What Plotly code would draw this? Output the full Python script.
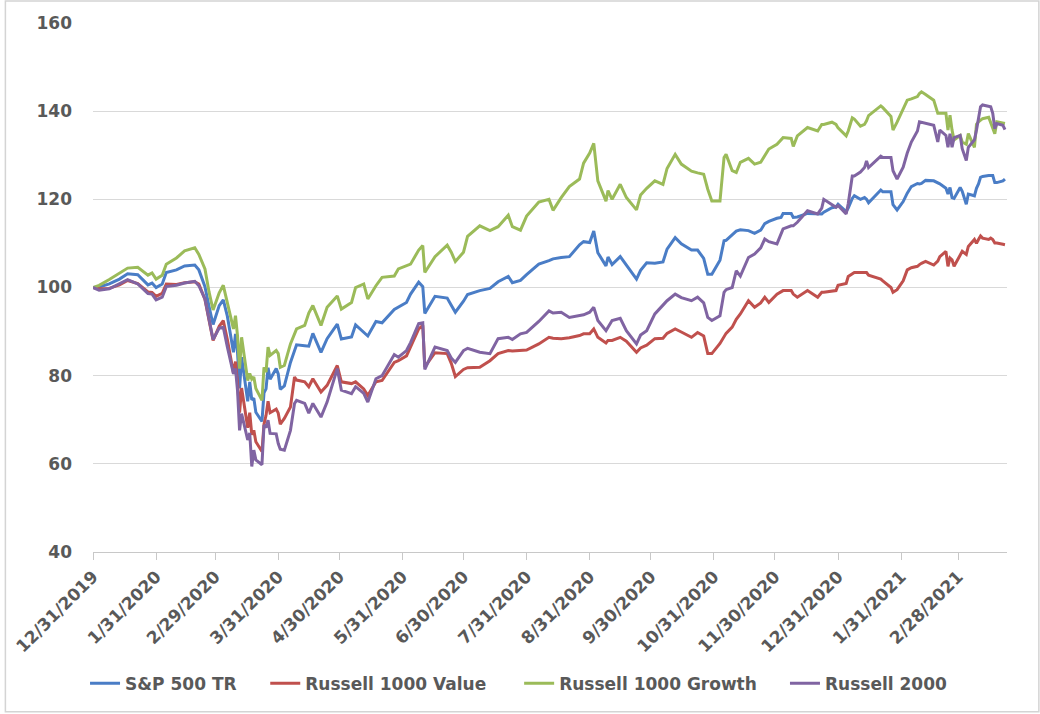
import plotly.graph_objects as go

# trading dates (month by month)
dates = (
    ["2019-12-31"]
    + ["2020-01-03", "2020-01-08", "2020-01-13", "2020-01-17", "2020-01-22", "2020-01-27", "2020-01-29", "2020-01-31"]
    + ["2020-02-03", "2020-02-05", "2020-02-10", "2020-02-14", "2020-02-19", "2020-02-21", "2020-02-24", "2020-02-26", "2020-02-28"]
    + ["2020-03-02", "2020-03-04", "2020-03-06", "2020-03-09", "2020-03-10", "2020-03-11", "2020-03-12", "2020-03-13",
       "2020-03-16", "2020-03-17", "2020-03-18", "2020-03-19", "2020-03-20", "2020-03-23", "2020-03-24", "2020-03-25",
       "2020-03-26", "2020-03-27", "2020-03-30", "2020-03-31"]
    + ["2020-04-01", "2020-04-03", "2020-04-06", "2020-04-08", "2020-04-09", "2020-04-13", "2020-04-15", "2020-04-17",
       "2020-04-21", "2020-04-24", "2020-04-29"]
    + ["2020-05-01", "2020-05-06", "2020-05-08", "2020-05-12", "2020-05-14", "2020-05-18", "2020-05-21", "2020-05-27", "2020-05-29"]
    + ["2020-06-02", "2020-06-04", "2020-06-08", "2020-06-10", "2020-06-11", "2020-06-16", "2020-06-22", "2020-06-24",
       "2020-06-26", "2020-06-30"]
    + ["2020-07-02", "2020-07-08", "2020-07-13", "2020-07-17", "2020-07-22", "2020-07-24", "2020-07-28", "2020-07-31"]
    + ["2020-08-06", "2020-08-11", "2020-08-13", "2020-08-17", "2020-08-21", "2020-08-26", "2020-08-28", "2020-08-31"]
    + ["2020-09-02", "2020-09-04", "2020-09-08", "2020-09-09", "2020-09-11", "2020-09-15", "2020-09-18", "2020-09-23",
       "2020-09-25", "2020-09-28"]
    + ["2020-10-02", "2020-10-06", "2020-10-08", "2020-10-12", "2020-10-15", "2020-10-20", "2020-10-23", "2020-10-26",
       "2020-10-28", "2020-10-30"]
    + ["2020-11-03", "2020-11-05", "2020-11-06", "2020-11-09", "2020-11-11", "2020-11-13", "2020-11-17", "2020-11-20",
       "2020-11-23", "2020-11-25", "2020-11-27"]
    + ["2020-12-01", "2020-12-03", "2020-12-04", "2020-12-08", "2020-12-09", "2020-12-11", "2020-12-16", "2020-12-21",
       "2020-12-23", "2020-12-24", "2020-12-28", "2020-12-30", "2020-12-31"]
    + ["2021-01-04", "2021-01-05", "2021-01-07", "2021-01-08", "2021-01-11", "2021-01-13", "2021-01-14", "2021-01-15",
       "2021-01-21", "2021-01-22", "2021-01-26", "2021-01-27", "2021-01-29"]
    + ["2021-02-01", "2021-02-03", "2021-02-05", "2021-02-08", "2021-02-09", "2021-02-10", "2021-02-12", "2021-02-16",
       "2021-02-18", "2021-02-19", "2021-02-22", "2021-02-23", "2021-02-24", "2021-02-25", "2021-02-26"]
    + ["2021-03-01", "2021-03-02", "2021-03-04", "2021-03-05", "2021-03-08", "2021-03-09", "2021-03-10", "2021-03-11",
       "2021-03-12", "2021-03-15", "2021-03-16", "2021-03-17", "2021-03-18", "2021-03-19", "2021-03-22", "2021-03-23"]
)

sp500_tr = (
    [100.0]
    + [100.1, 100.8, 101.9, 103.1, 102.9, 100.6, 101.0, 100.0]
    + [100.8, 103.4, 104.0, 104.9, 105.1, 104.0, 100.2, 95.7, 91.6]
    + [95.9, 97.2, 93.5, 85.3, 89.5, 85.3, 77.1, 84.2, 74.2, 78.6, 74.5, 74.9, 71.7, 69.6, 76.1, 77.0, 81.8, 79.2, 81.6, 80.4]
    + [76.9, 77.7, 83.0, 85.9, 87.0, 86.8, 86.7, 89.6, 85.3, 88.4, 91.7]
    + [88.3, 88.8, 91.5, 89.9, 89.0, 92.3, 92.0, 95.0, 95.6]
    + [96.6, 98.5, 101.2, 100.2, 94.1, 98.0, 97.6, 96.0, 94.4, 96.9]
    + [98.4, 99.3, 99.8, 101.3, 102.5, 101.1, 101.6, 102.9]
    + [105.3, 106.1, 106.5, 106.8, 107.0, 109.7, 110.4, 110.2]
    + [112.8, 107.9, 104.9, 106.9, 105.2, 107.0, 105.0, 101.9, 103.9, 105.6]
    + [105.5, 105.8, 108.7, 111.3, 109.9, 108.5, 108.5, 106.6, 103.0, 103.0]
    + [106.2, 110.6, 110.7, 111.9, 112.8, 113.1, 112.9, 112.3, 113.0, 114.5, 115.0]
    + [115.7, 115.9, 116.8, 116.8, 115.9, 116.0, 116.8, 116.8, 116.7, 117.1, 118.1, 118.3, 118.9]
    + [117.2, 118.0, 120.2, 120.8, 120.0, 120.4, 120.0, 119.2, 122.1, 121.7, 121.7, 118.8, 117.6]
    + [119.5, 121.4, 122.9, 123.6, 123.5, 123.6, 124.3, 124.2, 123.8, 123.5, 122.5, 121.2, 122.7, 120.4, 120.2]
    + [122.7, 121.8, 118.9, 121.2, 120.8, 122.5, 123.5, 125.0, 125.2, 125.4, 125.4, 125.4, 123.8, 123.8, 124.2, 124.6]
)

r1000_value = (
    [100.0]
    + [99.7, 99.8, 100.6, 101.6, 100.9, 99.0, 98.9, 98.0]
    + [98.7, 100.8, 100.7, 101.1, 101.3, 100.8, 97.3, 92.6, 88.0]
    + [91.2, 92.5, 88.2, 80.6, 83.2, 78.5, 71.6, 77.2, 68.2, 71.6, 66.6, 67.6, 65.0, 62.8, 69.0, 71.0, 74.2, 71.6, 72.4, 71.5]
    + [69.0, 70.3, 72.9, 79.7, 79.0, 78.6, 77.5, 79.3, 76.3, 77.8, 82.3]
    + [78.6, 78.2, 78.6, 77.0, 75.5, 78.6, 78.9, 83.0, 83.4]
    + [84.5, 86.5, 90.6, 91.4, 82.0, 85.2, 85.0, 82.8, 79.8, 81.4]
    + [81.8, 81.9, 83.4, 85.0, 85.7, 85.6, 85.7, 85.8]
    + [87.2, 88.7, 88.5, 88.4, 88.6, 89.1, 89.5, 89.5]
    + [90.6, 88.7, 87.4, 88.0, 88.0, 88.7, 87.8, 85.3, 86.3, 86.9]
    + [88.4, 88.5, 89.6, 90.6, 89.9, 88.7, 89.8, 89.0, 85.0, 85.0]
    + [87.3, 89.0, 89.6, 91.0, 92.8, 94.0, 97.0, 95.5, 96.5, 97.8, 96.6]
    + [98.5, 99.1, 99.3, 99.3, 98.5, 97.8, 99.3, 97.8, 98.9, 98.9, 99.2, 99.3, 100.5]
    + [100.9, 102.5, 103.2, 103.4, 103.4, 103.4, 103.4, 102.8, 101.9, 101.5, 100.0, 98.9, 99.5]
    + [101.5, 104.0, 104.5, 104.8, 105.2, 105.5, 105.9, 105.1, 106.0, 107.0, 108.2, 104.8, 106.7, 106.3, 104.8]
    + [107.5, 108.2, 107.5, 109.3, 110.9, 110.0, 110.9, 111.7, 111.2, 110.9, 111.2, 110.9, 110.1, 110.1, 109.8, 109.7]
)

r1000_growth = (
    [100.0]
    + [100.5, 101.8, 103.2, 104.4, 104.6, 102.8, 103.3, 101.9]
    + [102.8, 105.3, 106.7, 108.3, 109.0, 107.5, 104.2, 99.0, 94.9]
    + [98.8, 100.5, 96.6, 90.6, 93.6, 89.0, 81.6, 88.7, 78.9, 80.5, 79.2, 79.7, 77.1, 74.4, 81.9, 80.8, 86.5, 84.6, 85.7, 85.0]
    + [81.9, 82.3, 87.2, 89.8, 90.6, 91.4, 94.2, 95.9, 91.4, 95.5, 98.1]
    + [95.1, 96.6, 100.0, 100.8, 97.4, 100.4, 102.3, 102.6, 104.2]
    + [105.0, 105.3, 108.5, 109.5, 103.4, 107.0, 109.6, 108.0, 105.9, 108.0]
    + [111.6, 114.0, 112.9, 113.8, 116.4, 113.8, 113.0, 116.2]
    + [119.4, 120.0, 117.5, 120.4, 122.9, 124.6, 128.2, 130.5]
    + [132.7, 124.2, 119.6, 122.0, 120.0, 123.4, 120.4, 117.6, 121.0, 122.5]
    + [124.2, 123.4, 127.0, 130.2, 128.0, 126.4, 126.0, 125.7, 122.3, 119.6]
    + [119.6, 129.5, 130.2, 126.5, 126.1, 128.4, 129.3, 128.0, 128.4, 130.0, 131.4]
    + [132.5, 133.4, 134.0, 133.8, 132.0, 134.4, 136.3, 135.5, 137.0, 137.0, 137.5, 137.0, 136.2]
    + [134.4, 135.5, 138.5, 138.2, 136.6, 137.0, 137.8, 139.0, 141.2, 140.8, 138.8, 135.7, 137.5]
    + [140.6, 142.5, 142.8, 143.3, 144.0, 144.4, 143.8, 142.5, 139.5, 139.5, 139.5, 135.7, 139.1, 135.7, 133.5]
    + [134.5, 133.0, 132.5, 134.9, 131.8, 137.0, 137.6, 138.0, 138.3, 138.6, 137.5, 136.0, 134.9, 137.6, 137.4, 137.2]
)

r2000 = (
    [100.0]
    + [99.4, 99.7, 100.8, 101.8, 100.8, 98.6, 98.5, 97.2]
    + [97.8, 100.2, 100.5, 101.0, 101.4, 100.4, 97.4, 92.7, 88.2]
    + [90.8, 91.0, 86.5, 80.4, 81.6, 76.6, 67.6, 71.4, 65.4, 67.0, 59.4, 63.1, 60.9, 59.8, 68.8, 68.2, 69.9, 66.9, 66.8, 64.6]
    + [63.3, 63.1, 67.6, 73.7, 74.4, 73.7, 71.5, 73.7, 70.6, 74.0, 81.6]
    + [76.7, 75.9, 77.5, 76.0, 74.0, 79.3, 80.0, 84.8, 84.2]
    + [85.7, 87.5, 91.8, 92.0, 81.4, 86.5, 85.7, 84.0, 83.0, 85.7]
    + [86.2, 85.3, 85.0, 88.4, 88.7, 88.2, 89.5, 89.8]
    + [92.3, 94.7, 94.2, 94.4, 93.2, 93.6, 93.8, 94.4]
    + [95.5, 92.5, 90.2, 91.0, 92.5, 93.0, 90.2, 87.2, 89.2, 90.2]
    + [94.0, 96.0, 97.0, 98.5, 97.7, 97.0, 97.8, 96.5, 93.2, 92.5]
    + [93.6, 98.9, 99.5, 100.0, 103.8, 102.6, 106.8, 107.6, 109.0, 111.0, 110.4]
    + [109.9, 112.0, 113.3, 114.0, 114.0, 114.8, 117.4, 116.7, 118.0, 120.0, 118.9, 118.2, 118.6]
    + [116.7, 119.0, 125.3, 125.3, 126.2, 127.2, 128.7, 127.2, 129.8, 129.5, 129.5, 126.5, 124.6]
    + [127.3, 130.5, 133.0, 135.5, 137.6, 137.5, 137.2, 136.8, 133.0, 135.7, 134.5, 131.8, 134.9, 131.8, 134.0]
    + [134.5, 131.5, 128.8, 131.8, 133.5, 135.7, 138.5, 141.0, 141.4, 141.2, 141.0, 139.5, 136.0, 137.2, 136.8, 135.8]
)

series_names = ["S&P 500 TR", "Russell 1000 Value", "Russell 1000 Growth", "Russell 2000"]
series_colors = ["#4a7dc6", "#c0504d", "#9bbb59", "#8064a2"]

tick_dates = ["2019-12-31", "2020-01-31", "2020-02-29", "2020-03-31", "2020-04-30", "2020-05-31",
              "2020-06-30", "2020-07-31", "2020-08-31", "2020-09-30", "2020-10-31", "2020-11-30",
              "2020-12-31", "2021-01-31", "2021-02-28"]
tick_labels = ["12/31/2019", "1/31/2020", "2/29/2020", "3/31/2020", "4/30/2020", "5/31/2020",
               "6/30/2020", "7/31/2020", "8/31/2020", "9/30/2020", "10/31/2020", "11/30/2020",
               "12/31/2020", "1/31/2021", "2/28/2021"]

text_font = dict(family="DejaVu Sans, Verdana, sans-serif", size=17, color="#595959", weight="bold")

W, H = 1040, 714
ml, mr, mt, mb = 89, 33, 23, 161
pw, ph = W - ml - mr, H - mt - mb

# each series gets its own legend box so the spacing can follow the original
legend_ids = ["legend", "legend2", "legend3", "legend4"]
legend_left_px = [81, 262, 517, 784]

fig = go.Figure()
for name, color, vals, lid in zip(series_names, series_colors,
                                  [sp500_tr, r1000_value, r1000_growth, r2000], legend_ids):
    fig.add_trace(go.Scatter(x=dates, y=vals, mode="lines", name=name, legend=lid,
                             line=dict(color=color, width=3)))

legends = {}
for lid, px in zip(legend_ids, legend_left_px):
    legends[lid] = dict(orientation="h", x=(px - ml) / pw, xanchor="left",
                        y=-(685 - (H - mb)) / ph, yanchor="middle",
                        font=text_font, itemwidth=30, bgcolor="rgba(0,0,0,0)")

fig.update_layout(
    width=W, height=H,
    margin=dict(l=ml, r=mr, t=mt, b=mb),
    paper_bgcolor="white", plot_bgcolor="white",
    showlegend=True,
    xaxis=dict(type="date", range=["2019-12-31", "2021-03-24"],
               tickvals=tick_dates, ticktext=tick_labels, tickangle=-45,
               tickfont=text_font, showgrid=False, zeroline=False,
               showline=True, linecolor="#c8c8c8", linewidth=1,
               ticks="outside", ticklen=7, tickcolor="#c8c8c8"),
    yaxis=dict(range=[40, 160], dtick=20, tickfont=text_font,
               showgrid=True, gridcolor="#d9d9d9", gridwidth=1,
               zeroline=False, showline=False, ticks="", ticklabelstandoff=20),
    shapes=[dict(type="rect", xref="paper", yref="paper",
                 x0=(1 - ml) / pw, x1=(W - 1 - ml) / pw,
                 y0=-(mb - 1) / ph, y1=1 + (mt - 1) / ph,
                 line=dict(color="#d4d4d4", width=1.5), layer="below")],
    **legends,
)

fig.write_html("out.html", config={"displayModeBar": False},
               post_script="document.body.style.margin='0';")
